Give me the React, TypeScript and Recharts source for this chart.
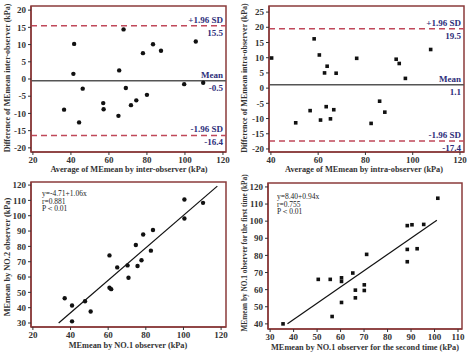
import {
  ScatterChart,
  Scatter,
  XAxis,
  YAxis,
  ReferenceLine,
  ReferenceArea,
} from "recharts";

// top-left: inter-observer Bland-Altman
const interAvg = [36.4, 41.7, 41.3, 46.2, 44.3, 57, 57.2, 65.4, 65, 67.7, 68.9, 71.6, 74.4, 77.9, 80, 83.2, 87.4, 99.6, 105.7, 109.6];
const interDiff = [-8.9, 10.2, 1.5, -2.8, -12.6, -7, -8.8, 2.5, -10.7, 14.4, -2.6, -7.6, -6.2, 7.5, -4.6, 10.1, 8.2, -1.5, 10.9, -1.1];
const interLines = [15.5, -0.5, -16.4];

// top-right: intra-observer Bland-Altman
const intraAvg = [40.3, 50.5, 56.6, 58.3, 60.5, 61, 62.7, 63.4, 63.8, 65.2, 66.6, 67.6, 76.3, 82.4, 86, 88.2, 93, 94.3, 96.9, 107.6];
const intraDiff = [9.9, -11.4, -7.4, 16.2, 10.9, -10.5, 5, -6.1, 7.2, -10.1, -7.1, 4.9, 9.8, -11.6, -4.3, -7.9, 9.5, 8.1, 3.2, 12.7];
const intraLines = [19.5, 1.1, -17.4];

// bottom-left: observer 1 vs observer 2
const obs1 = [36.9, 40.8, 40.8, 47.7, 50.7, 60.7, 60.7, 61.6, 64.8, 70.3, 70.8, 74.7, 75.6, 77.7, 78.6, 82.7, 83.8, 100.5, 100.5, 110.4];
const obs2 = [46.2, 41.4, 31.1, 44.2, 37.5, 74.1, 53, 52.1, 66.3, 67.6, 59.5, 80.9, 67.2, 70.9, 87.7, 77.2, 90.7, 110.6, 98.2, 108.4];
const obsFit = [
  { x: 33.7, y: 30 },
  { x: 118, y: 119.3 },
];

// bottom-right: first vs second time
const second = [35.5, 50.5, 55.6, 56.4, 60.4, 60.4, 60.4, 65.2, 66.3, 66.3, 70.1, 70.1, 71.1, 88.4, 88.4, 88.4, 90.4, 92.6, 95.4, 101.4];
const first = [40, 66, 66, 44.3, 66.9, 64.8, 52.5, 69.7, 59.7, 55.2, 62.8, 59.5, 80.6, 97.4, 83.5, 76.3, 97.9, 83.9, 98.1, 113.4];
const timeFit = [
  { x: 37.4, y: 40 },
  { x: 101, y: 100.5 },
];

const serif = "'Liberation Serif', 'Times New Roman', serif";
const frame = "#8a3b3b";
const tickStyle = { fontSize: 9, fontWeight: 700, fill: "#333", fontFamily: serif };

const toPoints = (xs: number[], ys: number[]) => xs.map((x, i) => ({ x, y: ys[i] }));

const dot = (p: any) => <circle cx={p.cx} cy={p.cy} r={2.2} fill="#111" />;
const box = (p: any) => <rect x={p.cx - 1.8} y={p.cy - 1.8} width={3.6} height={3.6} fill="#111" />;

function LineTag(props: any) {
  const { viewBox, upper, lower } = props;
  if (!viewBox) return null;
  const right = viewBox.x + viewBox.width - 3;
  return (
    <g fontFamily={serif} fontWeight={700} fontSize={9} fill="#2e2e7a">
      <text x={right} y={viewBox.y - 3} textAnchor="end">
        {upper}
      </text>
      <text x={right} y={viewBox.y + 10} textAnchor="end">
        {lower}
      </text>
    </g>
  );
}

function Title({ text, x, y, size, rotate }: { text: string; x: number; y: number; size: number; rotate?: boolean }) {
  return (
    <text
      x={x}
      y={y}
      transform={rotate ? `rotate(-90 ${x} ${y})` : undefined}
      textAnchor="middle"
      dy="0.35em"
      fontFamily={serif}
      fontWeight={700}
      fontSize={size}
      fill="#333"
    >
      {text}
    </text>
  );
}

function Note({ lines, x, y }: { lines: string[]; x: number; y: number }) {
  return (
    <text x={x} y={y} fontFamily={serif} fontSize={7.5} fill="#222">
      {lines.map((l, i) => (
        <tspan key={l} x={x} dy={i === 0 ? 0 : 7.5}>
          {l}
        </tspan>
      ))}
    </text>
  );
}

type PanelProps = {
  left: number;
  top: number;
  margin: { top: number; right: number; bottom: number; left: number };
  xDomain: [number, number];
  yDomain: [number, number];
  xTicks: number[];
  yTicks: number[];
  data: { x: number; y: number }[];
  square?: boolean;
  children?: any;
};

function Panel({ left, top, margin, xDomain, yDomain, xTicks, yTicks, data, square, children }: PanelProps) {
  return (
    <div style={{ position: "absolute", left, top }}>
      <ScatterChart width={237} height={178} margin={margin}>
        <XAxis
          type="number"
          dataKey="x"
          domain={xDomain}
          ticks={xTicks}
          allowDataOverflow
          height={12}
          tickSize={3}
          tick={tickStyle}
          axisLine={{ stroke: frame, strokeWidth: 1.5 }}
          tickLine={{ stroke: "#333" }}
        />
        <YAxis
          type="number"
          dataKey="y"
          domain={yDomain}
          ticks={yTicks}
          allowDataOverflow
          width={22}
          tickSize={3}
          tick={tickStyle}
          axisLine={{ stroke: frame, strokeWidth: 1.5 }}
          tickLine={{ stroke: "#333" }}
        />
        <ReferenceArea
          x1={xDomain[0]}
          x2={xDomain[1]}
          y1={yDomain[0]}
          y2={yDomain[1]}
          fill="none"
          stroke={frame}
          strokeWidth={1.5}
          fillOpacity={0}
        />
        {children}
        <Scatter data={data} fill="#111" shape={square ? box : dot} isAnimationActive={false} />
      </ScatterChart>
    </div>
  );
}

export default function App() {
  const sd = (vals: number[]) => [
    <ReferenceLine
      key="u"
      y={vals[0]}
      stroke="#c0485a"
      strokeWidth={1.5}
      strokeDasharray="6 4"
      label={<LineTag upper="+1.96 SD" lower={String(vals[0])} />}
    />,
    <ReferenceLine
      key="m"
      y={vals[1]}
      stroke="#555"
      strokeWidth={1.5}
      label={<LineTag upper="Mean" lower={String(vals[1])} />}
    />,
    <ReferenceLine
      key="l"
      y={vals[2]}
      stroke="#c0485a"
      strokeWidth={1.5}
      strokeDasharray="6 4"
      label={<LineTag upper="-1.96 SD" lower={String(vals[2])} />}
    />,
  ];

  return (
    <div style={{ position: "absolute", left: 0, top: 0, width: 474, height: 355, background: "#fff", overflow: "hidden" }}>
      <Panel
        left={0}
        top={0}
        margin={{ top: 6, right: 11, bottom: 14, left: 9 }}
        xDomain={[19, 121.6]}
        yDomain={[-21.2, 21.2]}
        xTicks={[20, 40, 60, 80, 100, 120]}
        yTicks={[-20, -15, -10, -5, 0, 5, 10, 15, 20]}
        data={toPoints(interAvg, interDiff)}
      >
        {sd(interLines)}
      </Panel>
      <Panel
        left={237}
        top={0}
        margin={{ top: 6, right: 10, bottom: 14, left: 10 }}
        xDomain={[39.2, 121.7]}
        yDomain={[-21, 27]}
        xTicks={[40, 60, 80, 100, 120]}
        yTicks={[-20, -15, -10, -5, 0, 5, 10, 15, 20, 25]}
        data={toPoints(intraAvg, intraDiff)}
        square
      >
        {sd(intraLines)}
      </Panel>
      <Panel
        left={0}
        top={177}
        margin={{ top: 5, right: 11, bottom: 16, left: 9 }}
        xDomain={[19, 122.6]}
        yDomain={[27.4, 122]}
        xTicks={[20, 40, 60, 80, 100, 120]}
        yTicks={[30, 40, 50, 60, 70, 80, 90, 100, 110, 120]}
        data={toPoints(obs1, obs2)}
      >
        <ReferenceLine segment={obsFit} stroke="#111" strokeWidth={1.2} />
      </Panel>
      <Panel
        left={237}
        top={177}
        margin={{ top: 6, right: 12, bottom: 14, left: 9 }}
        xDomain={[29.1, 111.7]}
        yDomain={[37, 122.3]}
        xTicks={[30, 40, 50, 60, 70, 80, 90, 100, 110]}
        yTicks={[40, 50, 60, 70, 80, 90, 100, 110, 120]}
        data={toPoints(second, first)}
        square
      >
        <ReferenceLine segment={timeFit} stroke="#111" strokeWidth={1.2} />
      </Panel>

      <svg width={474} height={355} style={{ position: "absolute", left: 0, top: 0, pointerEvents: "none" }}>
        <Title text="Difference of MEmean inter-observer (kPa)" x={7} y={78} size={8} rotate />
        <Title text="Average of MEmean by inter-observer (kPa)" x={129} y={169} size={8.3} />
        <Title text="Difference of MEmean intra-observer (kPa)" x={244} y={78} size={8} rotate />
        <Title text="Average of MEmean by intra-observer (kPa)" x={364} y={169} size={8.3} />
        <Title text="MEmean by NO.2 observer (kPa)" x={7} y={257} size={8.3} rotate />
        <Title text="MEmean by NO.1 observer (kPa)" x={128} y={345} size={8.3} />
        <Title text="MEmean by NO.1 observer for the first time (kPa)" x={244} y={253} size={7.3} rotate />
        <Title text="MEmean by NO.1 observer for the second time (kPa)" x={365} y={347} size={8.3} />

        <Note lines={["y=-4.71+1.06x", "r=0.881", "P＜0.01"]} x={42} y={196} />
        <Note lines={["y=8.40+0.94x", "r=0.755", "P＜0.01"]} x={277} y={199} />
      </svg>
    </div>
  );
}
